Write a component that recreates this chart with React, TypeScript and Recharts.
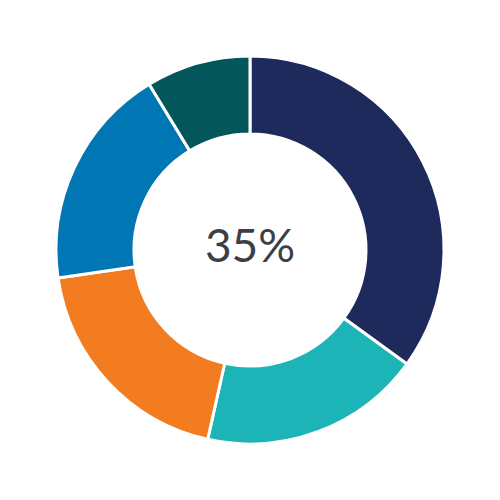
import { Cell, Label, Pie, PieChart } from 'recharts';

const segments = ['Navy', 'Teal', 'Orange', 'Blue', 'Green'];
const shares = [35, 18.5, 19.2, 18.6, 8.7];
const colors = ['#1d2a5b', '#1cb4b6', '#f37c21', '#0076b4', '#03575a'];
const centerLabel = '35%';

const data = segments.map((name, i) => ({ name, value: shares[i] }));

export default function App() {
  if (typeof document !== 'undefined') document.body.style.margin = '0';

  return (
    <div style={{ width: 500, height: 500 }}>
      <PieChart width={500} height={500} margin={{ top: 0, right: 0, bottom: 0, left: 0 }}>
        <Pie
          data={data}
          dataKey="value"
          nameKey="name"
          cx={250}
          cy={250}
          innerRadius={116}
          outerRadius={194}
          startAngle={90}
          endAngle={-270}
          stroke="#ffffff"
          strokeWidth={3}
          isAnimationActive={false}
        >
          {data.map((d, i) => (
            <Cell key={d.name} fill={colors[i]} />
          ))}
          <Label
            value={centerLabel}
            position="center"
            dy={-4}
            fill="#3c3f47"
            style={{ fontFamily: 'Lato', fontSize: 46, fontWeight: 400 }}
          />
        </Pie>
      </PieChart>
    </div>
  );
}
